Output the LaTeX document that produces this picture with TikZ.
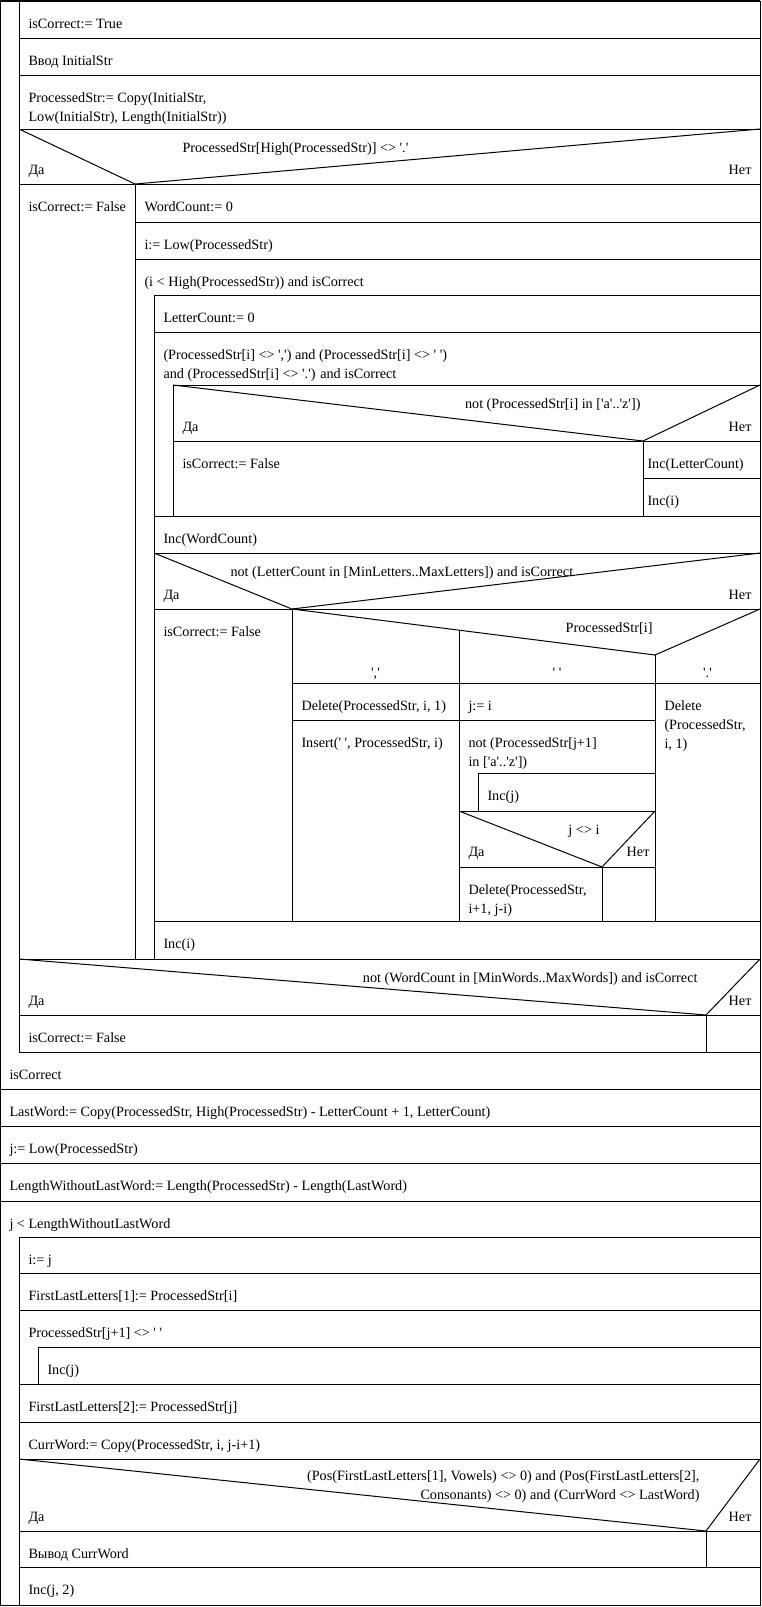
\documentclass[tikz,border=0pt]{standalone}
\usepackage{fontspec}
\setmainfont[Ligatures=TeXOff]{Liberation Serif}
\usepackage{tikz}
\tikzstyle{txt} = [anchor=base west, inner sep=0pt]
\tikzstyle{txtr} = [anchor=base east, inner sep=0pt]
\tikzstyle{txtc} = [anchor=base, inner sep=0pt]

\begin{document}
\begin{tikzpicture}[x=1pt, y=-1pt, line width=1pt, font=\rmfamily\fontsize{14.2}{17}\selectfont]
\useasboundingbox (0,0) rectangle (761,1607);

% outer frame
\draw (0.5,1) rectangle (760,1605);
\draw[line width=2pt] (0,1) -- (760,1);

% repeat ... until isCorrect
\draw (19,1) -- (19,1052) -- (760,1052);
\draw (19,38) -- (760,38);
\draw (19,75) -- (760,75);
\draw (19,129) -- (760,129);
\node[txt] (setok) at (28,28) {isCorrect:= True};
\node[txt] (readstr) at (28,65) {Ввод InitialStr};
\node[txt] (copya) at (28,102) {ProcessedStr:= Copy(InitialStr,};
\node[txt] (copyb) at (28,121) {Low(InitialStr), Length(InitialStr))};

% if last char is not a dot
\draw (19,129) -- (135,184) -- (760,129);
\draw (19,184) -- (760,184);
\draw (135,184) -- (135,959);
\node[txt] (ifdot) at (182,152) {ProcessedStr[High(ProcessedStr)] <> '.'};
\node[txt] (ifdotyes) at (28,174) {Да};
\node[txtr] (ifdotno) at (752,174) {Нет};
\node[txt] (baddot) at (28,211) {isCorrect:= False};

% no branch
\draw (135,222) -- (760,222);
\draw (135,259) -- (760,259);
\node[txt] (wczero) at (144,211) {WordCount:= 0};
\node[txt] (ilow) at (144,249) {i:= Low(ProcessedStr)};
\node[txt] (whilei) at (144,286) {(i < High(ProcessedStr)) and isCorrect};

% while body
\draw (154,295) -- (760,295);
\draw (154,295) -- (154,959);
\draw (154,332) -- (760,332);
\node[txt] (lczero) at (163,322) {LetterCount:= 0};
\node[txt] (whilecha) at (163,359) {(ProcessedStr[i] <> ',') and (ProcessedStr[i] <> ' ')};
\node[txt] (whilechb) at (163,378) {and (ProcessedStr[i] <> '.') and isCorrect};

% inner while over letters
\draw (173,385) -- (760,385);
\draw (173,385) -- (173,516);
\draw (173,385) -- (643,441) -- (760,385);
\draw (173,441) -- (760,441);
\draw (643,441) -- (643,516);
\draw (643,478) -- (760,478);
\node[txtr] (ifaz) at (641,408) {not (ProcessedStr[i] in ['a'..'z'])};
\node[txt] (ifazyes) at (182,431) {Да};
\node[txtr] (ifazno) at (752,431) {Нет};
\node[txt] (badch) at (182,468) {isCorrect:= False};
\node[txt] (inclc) at (647,468) {Inc(LetterCount)};
\node[txt] (incia) at (647,505) {Inc(i)};

\draw (154,516) -- (760,516);
\draw (154,553) -- (760,553);
\node[txt] (incwc) at (163,543) {Inc(WordCount)};

% word length check
\draw (154,553) -- (292,609) -- (760,553);
\draw (154,609) -- (760,609);
\draw (292,609) -- (292,921);
\node[txt] (iflen) at (230,576) {not (LetterCount in [MinLetters..MaxLetters]) and isCorrect};
\node[txt] (iflenyes) at (163,599) {Да};
\node[txtr] (iflenno) at (752,599) {Нет};
\node[txt] (badlen) at (163,636) {isCorrect:= False};

% case ProcessedStr[i]
\draw (292,609) -- (655,655) -- (760,609);
\draw (459,630) -- (459,921);
\draw (655,655) -- (655,921);
\draw (292,683) -- (760,683);
\node[txtr] (caseof) at (653,632) {ProcessedStr[i]};
\node[txtc] (casecomma) at (375.5,677) {','};
\node[txtc] (casespace) at (557,677) {' '};
\node[txtc] (casedot) at (707.5,677) {'.'};

% ','
\draw (292,720) -- (459,720);
\node[txt] (delcomma) at (301,710) {Delete(ProcessedStr, i, 1)};
\node[txt] (inscomma) at (301,747) {Insert(' ', ProcessedStr, i)};

% ' '
\draw (459,720) -- (655,720);
\draw (478,773) -- (655,773);
\draw (478,773) -- (478,811);
\draw (459,811) -- (655,811);
\node[txt] (jset) at (468,710) {j:= i};
\node[txt] (whileja) at (468,747) {not (ProcessedStr[j+1]};
\node[txt] (whilejb) at (468,766) {in ['a'..'z'])};
\node[txt] (incja) at (487,800) {Inc(j)};
\draw (459,811) -- (602,867) -- (655,811);
\draw (459,867) -- (655,867);
\draw (602,867) -- (602,921);
\node[txtr] (ifj) at (600,834) {j <> i};
\node[txt] (ifjyes) at (468,856) {Да};
\node[txtr] (ifjno) at (650,856) {Нет};
\node[txt] (delspa) at (468,894) {Delete(ProcessedStr,};
\node[txt] (delspb) at (468,913) {i+1, j-i)};

% '.'
\node[txt] (deldota) at (664,710) {Delete};
\node[txt] (deldotb) at (664,729) {(ProcessedStr,};
\node[txt] (deldotc) at (664,748) {i, 1)};

\draw (154,921) -- (760,921);
\node[txt] (incib) at (163,948) {Inc(i)};

% word count check
\draw (19,959) -- (760,959);
\draw (19,959) -- (706,1015) -- (760,959);
\draw (19,1015) -- (760,1015);
\draw (706,1015) -- (706,1052);
\node[txtr] (ifwords) at (698,982) {not (WordCount in [MinWords..MaxWords]) and isCorrect};
\node[txt] (ifwordsyes) at (28,1005) {Да};
\node[txtr] (ifwordsno) at (752,1005) {Нет};
\node[txt] (badwords) at (28,1042) {isCorrect:= False};

\node[txt] (untilok) at (9,1079) {isCorrect};

% search
\draw (0,1089) -- (760,1089);
\draw (0,1126) -- (760,1126);
\draw (0,1163) -- (760,1163);
\draw (0,1201) -- (760,1201);
\node[txt] (lastword) at (9,1116) {LastWord:= Copy(ProcessedStr, High(ProcessedStr) - LetterCount + 1, LetterCount)};
\node[txt] (jlow) at (9,1153) {j:= Low(ProcessedStr)};
\node[txt] (lenwo) at (9,1190) {LengthWithoutLastWord:= Length(ProcessedStr) - Length(LastWord)};
\node[txt] (whilelen) at (9,1228) {j < LengthWithoutLastWord};

% while body
\draw (19,1237) -- (760,1237);
\draw (19,1237) -- (19,1605);
\draw (19,1273) -- (760,1273);
\draw (19,1310) -- (760,1310);
\draw (38,1347) -- (760,1347);
\draw (38,1347) -- (38,1384);
\draw (19,1384) -- (760,1384);
\draw (19,1422) -- (760,1422);
\draw (19,1459) -- (760,1459);
\node[txt] (iset) at (28,1264) {i:= j};
\node[txt] (firsta) at (28,1300) {FirstLastLetters[1]:= ProcessedStr[i]};
\node[txt] (whilesp) at (28,1337) {ProcessedStr[j+1] <> ' '};
\node[txt] (incjb) at (47,1374) {Inc(j)};
\node[txt] (firstb) at (28,1411) {FirstLastLetters[2]:= ProcessedStr[j]};
\node[txt] (currw) at (28,1449) {CurrWord:= Copy(ProcessedStr, i, j-i+1)};

% output check
\draw (19,1459) -- (706,1531) -- (760,1459);
\draw (19,1531) -- (760,1531);
\draw (706,1531) -- (706,1567);
\draw (19,1567) -- (760,1567);
\node[txtr] (ifcurra) at (700,1480) {(Pos(FirstLastLetters[1], Vowels) <> 0) and (Pos(FirstLastLetters[2],};
\node[txtr] (ifcurrb) at (700,1499) {Consonants) <> 0) and (CurrWord <> LastWord)};
\node[txt] (ifcurryes) at (28,1521) {Да};
\node[txtr] (ifcurrno) at (752,1521) {Нет};
\node[txt] (outw) at (28,1558) {Вывод CurrWord};
\node[txt] (incjc) at (28,1594) {Inc(j, 2)};

\end{tikzpicture}
\end{document}
